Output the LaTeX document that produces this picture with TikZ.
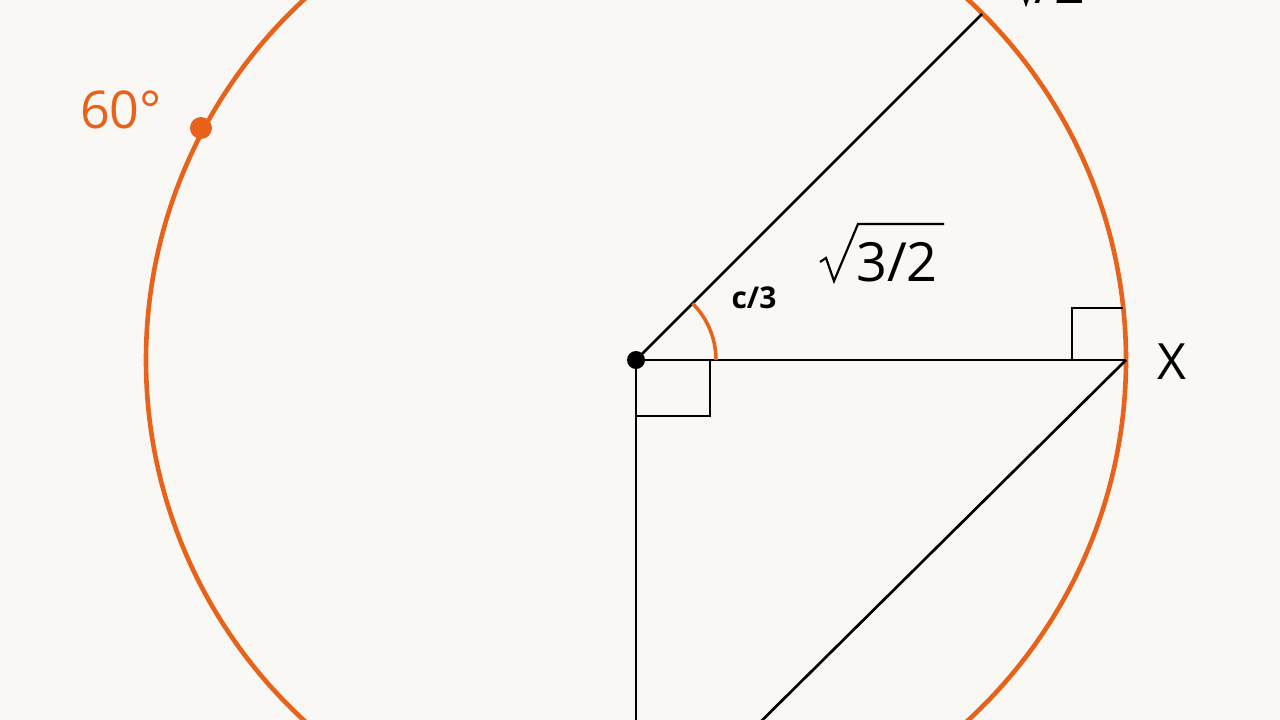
\documentclass[tikz,border=0pt]{standalone}
\usepackage{fontspec}
\setmainfont{Open Sans}
\usetikzlibrary{calc}
\definecolor{bg}{HTML}{FAF8F5}
\definecolor{org}{HTML}{E9621A}
\tikzset{
  blk/.style={draw=black, line width=2.7pt},
  orgline/.style={draw=org, line width=4.6pt},
  radical/.style={draw=black, line width=2.2pt, line join=miter},
  lbl/.style={font=\fontsize{50}{56}\selectfont, inner sep=0pt},
}
\begin{document}
\begin{tikzpicture}[x=1pt,y=-1pt]
\fill[bg] (0,0) rectangle (1280,720);
\useasboundingbox (0,0) rectangle (1280,720);
\begin{scope}
\clip (0,0) rectangle (1280,720);
\coordinate (O) at (636,360);
\coordinate (X) at (1126,360);
\coordinate (P) at (982,14);
\coordinate (B) at (636,760);
\coordinate (D) at (722,760);
% circle
\draw[orgline] (O) circle (490);
% lines
\draw[blk] (O) -- (P);
\draw[blk] (O) -- (X);
\draw[blk] (O) -- (B);
\draw[blk] (X) -- (D);
% right angle marks
\draw[blk] (1072,360) -- (1072,308) -- (1123,308);
\draw[blk] (636,416) -- (710,416) -- (710,360);
% angle arc
\draw[draw=org, line width=3.5pt] (716,360) arc[start angle=0, end angle=-45, radius=80];
% dots
\fill[black] (O) circle (9);
\node[circle, fill=org, inner sep=0pt, minimum size=22pt] (d60) at (201,128) {};
% labels
\node[lbl, anchor=center] (lx) at (1172,362) {X};
\node[lbl, text=org, anchor=center, font=\fontsize{52}{58}\selectfont] (l60) at (121,110) {60°};
\node[lbl, anchor=base west, font=\fontsize{54}{60}\selectfont] (l32) at (856,281) {3/2};
\draw[radical] (820,262) -- (826,258) -- (834,281) -- (858,224) -- (944,224);
\node[lbl, anchor=base west, font=\fontsize{54}{60}\selectfont] (ltop) at (1034,4) {/2};
\draw[radical] (1012,-16) -- (1018,-20) -- (1026,4) -- (1046,-50);
\node[lbl, anchor=center, font=\bfseries\fontsize{30}{34}\selectfont] (lang) at (754,298) {c/3};
\end{scope}
\end{tikzpicture}
\end{document}
